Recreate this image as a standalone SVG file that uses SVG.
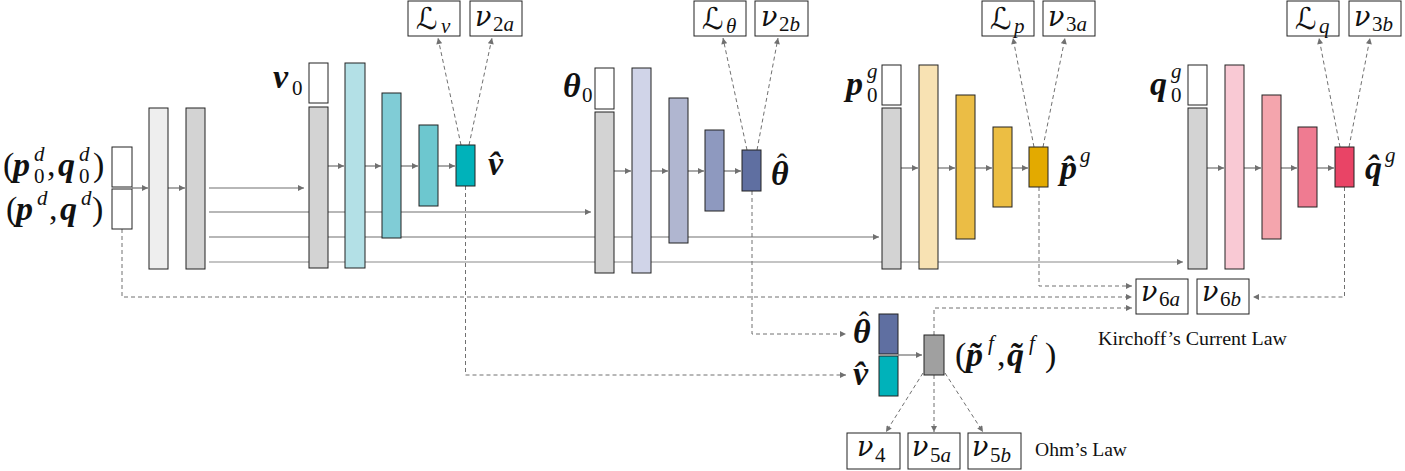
<svg xmlns="http://www.w3.org/2000/svg" width="1405" height="471" viewBox="0 0 1405 471">
<style>
.b{stroke:#222;stroke-width:1}
.w{fill:#fff}
.g{fill:#d3d3d3}
.s{stroke:#707070;stroke-width:1.2;fill:none}
.d{stroke:#707070;stroke-width:1;stroke-dasharray:4 3;fill:none}
text{font-family:"Liberation Serif","DejaVu Serif",serif;fill:#111}
.m{font-size:34px}
.bi{font-weight:bold;font-style:italic}
.it{font-style:italic}
.sb{font-size:21px}
.hf{font-size:30px;font-weight:normal;font-style:normal}
.cal{font-family:"DejaVu Serif","DejaVu Sans",serif;font-style:italic;font-size:30px}
.nu{font-family:"DejaVu Serif",serif;font-style:italic;font-size:27px}
.bs{font-size:21px}
.lbl{font-size:19px}
</style>
<defs>
<marker id="ah" viewBox="0 0 10 10" refX="10" refY="5" markerWidth="8" markerHeight="6" markerUnits="userSpaceOnUse" orient="auto">
<path d="M0,0 L10,5 L0,10 z" fill="#707070"/>
</marker>
</defs>

<g id="connectors">
<g class="s" marker-end="url(#ah)">
<path d="M132,188H148"/>
<path d="M168,188H185"/>
<path d="M209,188H304"/>
<path d="M209,212H591"/>
<path d="M209,237H879"/>
<path d="M209,262H1183" stroke="#8a8a8a"/>
<path d="M328,166H344"/><path d="M365,166H381"/><path d="M401,166H418"/><path d="M438,166H455"/>
<path d="M614,171H631"/><path d="M651,171H668"/><path d="M688,171H704"/><path d="M724,171H741"/>
<path d="M901,168H918"/><path d="M938,168H955"/><path d="M975,168H992"/><path d="M1012,168H1028"/>
<path d="M1207,168H1224"/><path d="M1244,168H1261"/><path d="M1281,168H1297"/><path d="M1317,168H1334"/>
<path d="M898,355H922"/>
</g>
<g class="d" marker-end="url(#ah)">
<path d="M461,145L438,38"/><path d="M469,145L492,38"/>
<path d="M747,150L723,38"/><path d="M757,150L778,38"/>
<path d="M1034,147L1013,38"/><path d="M1043,147L1065,38"/>
<path d="M1340,147L1319,38"/><path d="M1349,147L1370,38"/>
<path d="M465.5,186V375H846"/>
<path d="M752,191V334H846"/>
<path d="M1039,187V286H1132"/>
<path d="M122,229V297H1132"/>
<path d="M934,335V308H1132"/>
<path d="M1344.5,187V297H1253"/>
<path d="M923,373L886,432"/>
<path d="M934,375V432"/>
<path d="M945,373L983,432"/>
</g>
</g>

<g id="input">
<rect class="b w" x="112" y="147" width="20" height="40"/>
<rect class="b w" x="112" y="189" width="20" height="40"/>
<text class="m" x="3" y="176">(</text>
<text class="m bi" x="13" y="176">p</text>
<text class="sb it" x="34" y="161">d</text>
<text class="sb" x="34" y="183">0</text>
<text class="m" x="47" y="176">,</text>
<text class="m bi" x="58" y="176">q</text>
<text class="sb it" x="79" y="161">d</text>
<text class="sb" x="79" y="183">0</text>
<text class="m" x="93" y="176">)</text>
<text class="m" x="6" y="220">(</text>
<text class="m bi" x="16" y="220">p</text>
<text class="sb it" x="37" y="205">d</text>
<text class="m" x="49" y="220">,</text>
<text class="m bi" x="60" y="220">q</text>
<text class="sb it" x="81" y="205">d</text>
<text class="m" x="92" y="220">)</text>
</g>
<g id="encoder">
<rect class="b" fill="#eeeeee" x="149" y="108" width="19" height="161"/>
<rect class="b g" x="186" y="108" width="19" height="161"/>
</g>

<g id="v-net">
<rect class="b w" x="309" y="63" width="19" height="40"/>
<rect class="b g" x="309" y="107" width="19" height="161"/>
<rect class="b" fill="#b3e0e6" x="345" y="63" width="20" height="205"/>
<rect class="b" fill="#80ccd6" x="382" y="93" width="19" height="145"/>
<rect class="b" fill="#6dc7cf" x="419" y="125" width="19" height="81"/>
<rect class="b" fill="#00b2ba" x="456" y="145" width="19" height="41"/>
<text class="m bi" x="273" y="88">v</text>
<text class="sb" x="292" y="95">0</text>
<text class="m bi" x="488" y="175">v̂</text>
</g>
<g id="theta-net">
<rect class="b w" x="595" y="68" width="19" height="41"/>
<rect class="b g" x="595" y="112" width="19" height="161"/>
<rect class="b" fill="#d0d4e8" x="632" y="68" width="19" height="205"/>
<rect class="b" fill="#b0b6d0" x="669" y="98" width="19" height="145"/>
<rect class="b" fill="#8e99bf" x="705" y="130" width="19" height="81"/>
<rect class="b" fill="#5f6fa1" x="742" y="150" width="19" height="41"/>
<text class="m bi" x="563" y="97">θ</text>
<text class="sb" x="582" y="102">0</text>
<text class="m bi" x="771" y="185">θ<tspan class="hf" x="777" y="174">ˆ</tspan></text>
</g>
<g id="p-net">
<rect class="b w" x="882" y="65" width="19" height="40"/>
<rect class="b g" x="882" y="108" width="19" height="161"/>
<rect class="b" fill="#f8e2b3" x="919" y="65" width="19" height="204"/>
<rect class="b" fill="#ebbd45" x="956" y="95" width="19" height="144"/>
<rect class="b" fill="#ecbe43" x="993" y="127" width="19" height="80"/>
<rect class="b" fill="#e3aa00" x="1029" y="147" width="19" height="40"/>
<text class="m bi" x="846" y="95">p</text>
<text class="sb it" x="867" y="78">g</text>
<text class="sb" x="867" y="102">0</text>
<text class="m bi" x="1060" y="179">p̂</text>
<text class="sb it" x="1080" y="162">g</text>
</g>
<g id="q-net">
<rect class="b w" x="1188" y="65" width="19" height="40"/>
<rect class="b g" x="1188" y="108" width="19" height="161"/>
<rect class="b" fill="#f9c9d4" x="1225" y="65" width="19" height="204"/>
<rect class="b" fill="#f4a5ad" x="1262" y="95" width="19" height="144"/>
<rect class="b" fill="#ef7b91" x="1298" y="127" width="19" height="80"/>
<rect class="b" fill="#e94466" x="1335" y="147" width="19" height="40"/>
<text class="m bi" x="1150" y="95">q</text>
<text class="sb it" x="1171" y="78">g</text>
<text class="sb" x="1171" y="102">0</text>
<text class="m bi" x="1365" y="179">q̂</text>
<text class="sb it" x="1385" y="162">g</text>
</g>

<g id="loss-v"><rect class="b w" x="408" y="1" width="52" height="35"/><text class="cal" x="416" y="29">ℒ</text><text class="bs it" x="441" y="33">v</text></g>
<g id="nu2a"><rect class="b w" x="470" y="1" width="52" height="35"/><text class="nu" x="475" y="26">ν</text><text class="bs" x="493" y="31">2<tspan class="it">a</tspan></text></g>
<g id="loss-theta"><rect class="b w" x="694" y="1" width="52" height="35"/><text class="cal" x="702" y="29">ℒ</text><text class="bs it" x="726" y="33">θ</text></g>
<g id="nu2b"><rect class="b w" x="755" y="1" width="53" height="35"/><text class="nu" x="761" y="26">ν</text><text class="bs" x="779" y="31">2<tspan class="it">b</tspan></text></g>
<g id="loss-p"><rect class="b w" x="982" y="1" width="52" height="35"/><text class="cal" x="990" y="29">ℒ</text><text class="bs it" x="1014" y="33">p</text></g>
<g id="nu3a"><rect class="b w" x="1043" y="1" width="52" height="35"/><text class="nu" x="1048" y="26">ν</text><text class="bs" x="1066" y="31">3<tspan class="it">a</tspan></text></g>
<g id="loss-q"><rect class="b w" x="1287" y="1" width="52" height="35"/><text class="cal" x="1295" y="29">ℒ</text><text class="bs it" x="1319" y="33">q</text></g>
<g id="nu3b"><rect class="b w" x="1349" y="1" width="52" height="35"/><text class="nu" x="1354" y="26">ν</text><text class="bs" x="1372" y="31">3<tspan class="it">b</tspan></text></g>

<g id="nu6a"><rect class="b w" x="1136" y="279" width="52" height="35"/><text class="nu" x="1141" y="301">ν</text><text class="bs" x="1159" y="306">6<tspan class="it">a</tspan></text></g>
<g id="nu6b"><rect class="b w" x="1197" y="279" width="52" height="35"/><text class="nu" x="1202" y="301">ν</text><text class="bs" x="1220" y="306">6<tspan class="it">b</tspan></text></g>
<g id="kcl"><text class="lbl" x="1098" y="345" textLength="189" lengthAdjust="spacingAndGlyphs">Kirchoff’s Current Law</text></g>

<g id="flow">
<rect class="b" fill="#5f6fa1" x="879" y="314" width="19" height="40"/>
<rect class="b" fill="#00b2ba" x="879" y="356" width="19" height="40"/>
<text class="m bi" x="853" y="343">θ<tspan class="hf" x="859" y="332">ˆ</tspan></text>
<text class="m bi" x="853" y="385">v̂</text>
<rect class="b" fill="#a0a0a0" x="924" y="335" width="20" height="40"/>
<text class="m" x="955" y="366">(</text>
<text class="m bi" x="966" y="366">p̃</text>
<text class="sb it" x="988" y="350">f</text>
<text class="m" x="997" y="366">,</text>
<text class="m bi" x="1007" y="366">q̃</text>
<text class="sb it" x="1029" y="350">f</text>
<text class="m" x="1045" y="366">)</text>
</g>
<g id="nu4"><rect class="b w" x="847" y="433" width="53" height="36"/><text class="nu" x="857" y="456">ν</text><text class="bs" x="875" y="462">4</text></g>
<g id="nu5a"><rect class="b w" x="908" y="433" width="52" height="36"/><text class="nu" x="912" y="456">ν</text><text class="bs" x="930" y="462">5<tspan class="it">a</tspan></text></g>
<g id="nu5b"><rect class="b w" x="968" y="433" width="53" height="36"/><text class="nu" x="972" y="456">ν</text><text class="bs" x="990" y="462">5<tspan class="it">b</tspan></text></g>
<g id="ohm"><text class="lbl" x="1035" y="456" textLength="92" lengthAdjust="spacingAndGlyphs">Ohm’s Law</text></g>
</svg>
